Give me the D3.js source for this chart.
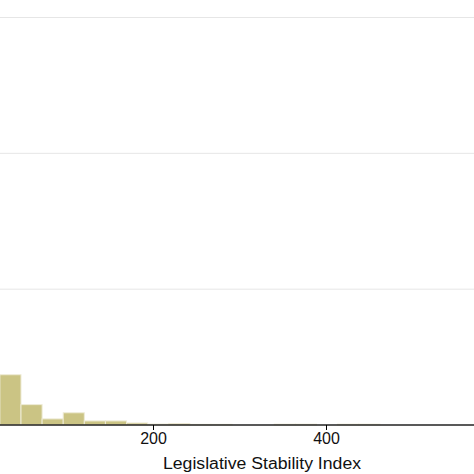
<!DOCTYPE html><html><head><meta charset="utf-8">
<script src="https://cdn.jsdelivr.net/npm/d3@7"></script>
<style>body{margin:0;background:#fff}</style></head><body>
<svg id="c" width="474" height="474"></svg>
<script>
const binStart = [23,47.4,71.8,96.2,120.6,145,169.4,193.8,218.2,242.6,267,291.4,315.8,340.2,364.6,389,413.4,437.8];
const binHeight = [37,15,4.5,9,3,3,1.5,0.7,1,0.5,0.5,0,0,0.6,0.6,0,0.6,0.6];
const binWidth = 24.4;
const xTicks = [200,400];
const yGrid = [100,200,300];
const svg = d3.select("#c");
const x = d3.scaleLinear().domain([0,600]).range([-20,499]);
const y = d3.scaleLinear().domain([0,300]).range([425,17.5]);
svg.append("g").selectAll("line").data(yGrid).join("line")
  .attr("x1",0).attr("x2",474).attr("y1",d=>y(d)).attr("y2",d=>y(d))
  .attr("stroke","#e6e6e6").attr("stroke-width",1);
svg.append("g").selectAll("rect").data(binStart.map((s,i)=>({s,h:binHeight[i]})).filter(d=>d.h>0)).join("rect")
  .attr("x",d=>x(d.s)).attr("width",d=>x(d.s+binWidth)-x(d.s))
  .attr("y",d=>y(d.h)).attr("height",d=>y(0)-y(d.h))
  .attr("fill","#cbc484").attr("stroke","#eeebd6").attr("stroke-width",1);
const ax = svg.append("g").attr("transform","translate(0,425)")
  .call(d3.axisBottom(x).tickValues(xTicks).tickSize(5).tickPadding(3));
ax.select(".domain").attr("d","M0,0H474").attr("stroke","#222").attr("stroke-width",1.5);
ax.selectAll("text").attr("font-family","Liberation Sans, Arial").attr("font-size",16).attr("fill","#111");
svg.append("text").attr("x",262).attr("y",469).attr("text-anchor","middle")
  .attr("font-family","Liberation Sans, Arial").attr("font-size",16).attr("fill","#111")
  .attr("textLength",198).attr("lengthAdjust","spacingAndGlyphs")
  .text("Legislative Stability Index");
</script></body></html>
